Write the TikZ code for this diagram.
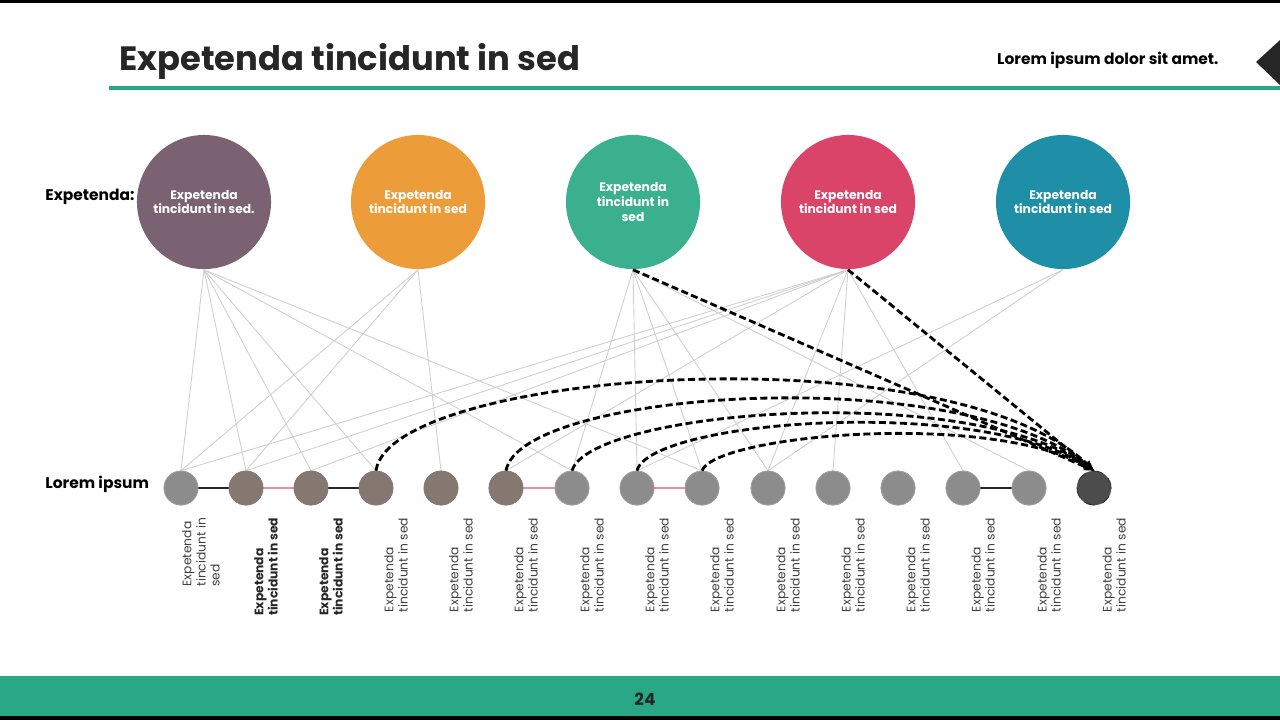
\documentclass[tikz,border=0pt]{standalone}
\usepackage{fontspec}
\setmainfont{Poppins}
\usetikzlibrary{arrows.meta}
\definecolor{cpur}{HTML}{7B6272}
\definecolor{cora}{HTML}{EC9D3A}
\definecolor{cgre}{HTML}{3BB08F}
\definecolor{cred}{HTML}{D94468}
\definecolor{ctea}{HTML}{1E8FA6}
\definecolor{bar}{HTML}{2AA784}
\definecolor{ng}{HTML}{8C8C8C}
\definecolor{nb}{HTML}{857870}
\definecolor{thin}{HTML}{CFCFCF}
\begin{document}
\begin{tikzpicture}[x=0.01cm,y=-0.01cm,
  big/.style={circle,minimum size=1.34cm,inner sep=0pt,text=white,font=\fontsize{3.5pt}{4.2pt}\selectfont\bfseries,align=center},
  small/.style={circle,minimum size=0.34cm,inner sep=0pt,fill=ng,draw=ng!80!white,line width=0.2pt},
  lab/.style={rotate=90,anchor=east,align=left,font=\fontsize{3.5pt}{4pt}\selectfont,text=black!75},
  link/.style={draw=thin,line width=0.25pt},
  dsh/.style={line width=0.8pt,dash pattern=on 2pt off 1pt,-{Stealth[length=3pt]}}]
\useasboundingbox (0,0) rectangle (1280,720);
\fill[black] (0,0) rectangle (1280,3);
\node[anchor=base west,font=\fontsize{9.6pt}{11pt}\selectfont\bfseries,text=black!85] (title) at (107,70) {Expetenda tincidunt in sed};
\draw[bar,line width=1.1pt] (109,88) -- (1280,88);
\node[anchor=base east,font=\fontsize{4.4pt}{5pt}\selectfont\bfseries] (sub) at (1231,64) {Lorem ipsum dolor sit amet.};
\fill[black!85] (1280,40) -- (1256,62) -- (1280,85) -- cycle;
\fill[bar] (0,676) rectangle (1280,716);
\fill[black] (0,716) rectangle (1280,720);
\node[font=\fontsize{4.8pt}{5pt}\selectfont\bfseries,text=black!85] (pg) at (645,699) {24};
\node[anchor=west,font=\fontsize{4.4pt}{5pt}\selectfont\bfseries] (l1) at (33,197) {Expetenda:};
\node[anchor=west,font=\fontsize{4.4pt}{5pt}\selectfont\bfseries] (l2) at (33,484) {Lorem ipsum};
% top circles
\node[big,fill=cpur] (A) at (204,202) {Expetenda\\tincidunt in sed.};
\node[big,fill=cora] (B) at (418,202) {Expetenda\\tincidunt in sed};
\node[big,fill=cgre] (C) at (633,202) {Expetenda\\tincidunt in\\sed};
\node[big,fill=cred] (D) at (848,202) {Expetenda\\tincidunt in sed};
\node[big,fill=ctea] (E) at (1063,202) {Expetenda\\tincidunt in sed};
% bottom nodes
\foreach \i/\x in {1/181,2/246,3/311,4/376,5/441,6/506,7/572,8/637,9/702,10/768,11/833,12/898,13/963,14/1029,15/1094}
  \node[small] (n\i) at (\x,488) {};
% connections
\foreach \t in {1,2,3,4,7,9} \draw[link] (A.south) -- (n\t.north);
\foreach \t in {1,2,5} \draw[link] (B.south) -- (n\t.north);
\foreach \t in {7,8,9,10,14} \draw[link] (C.south) -- (n\t.north);
\foreach \t in {1,2,3,6,10,11,13} \draw[link] (D.south) -- (n\t.north);
\foreach \t in {8,10} \draw[link] (E.south) -- (n\t.north);
\draw[black!85,line width=0.4pt] (n1) -- (n2);
\draw[cred!60,line width=0.4pt] (n2) -- (n3);
\draw[black!85,line width=0.4pt] (n3) -- (n4);
\draw[cred!60,line width=0.4pt] (n6) -- (n7);
\draw[cred!60,line width=0.4pt] (n8) -- (n9);
\draw[black!85,line width=0.4pt] (n13) -- (n14);
% refill nodes over lines
\foreach \i in {1,7,8,9,10,11,12,13,14} \node[small] at (n\i) {};
\foreach \i in {2,3,4,5,6} \node[small,fill=nb,draw=nb] at (n\i) {};
\node[small,fill=black!70,draw=black!85,densely dashed] at (n15) {};
% dashed arcs
\draw[dsh] (C.south) -- (n15.north);
\draw[dsh] (D.south) -- (n15.north);
\draw[dsh] (n4.north) .. controls (390,370) and (950,330) .. (n15.north);
\draw[dsh] (n6.north) .. controls (520,390) and (960,360) .. (n15.north);
\draw[dsh] (n7.north) .. controls (590,410) and (970,380) .. (n15.north);
\draw[dsh] (n8.north) .. controls (650,420) and (980,395) .. (n15.north);
\draw[dsh] (n9.north) .. controls (715,435) and (990,410) .. (n15.north);
% labels
\node[lab] (t1) at (n1.south) [yshift=-0.2cm] {Expetenda\\tincidunt in\\sed};
\foreach \i in {4,5,6,7,8,9,10,11,12,13,14,15}
  \node[lab] (t\i) at (n\i.south) [yshift=-0.2cm] {Expetenda\\tincidunt in sed};
\foreach \i in {2,3}
  \node[lab,font=\fontsize{3.5pt}{4pt}\selectfont\bfseries,text=black!85] (t\i) at (n\i.south) [yshift=-0.2cm] {Expetenda\\tincidunt in sed};
\end{tikzpicture}
\end{document}
